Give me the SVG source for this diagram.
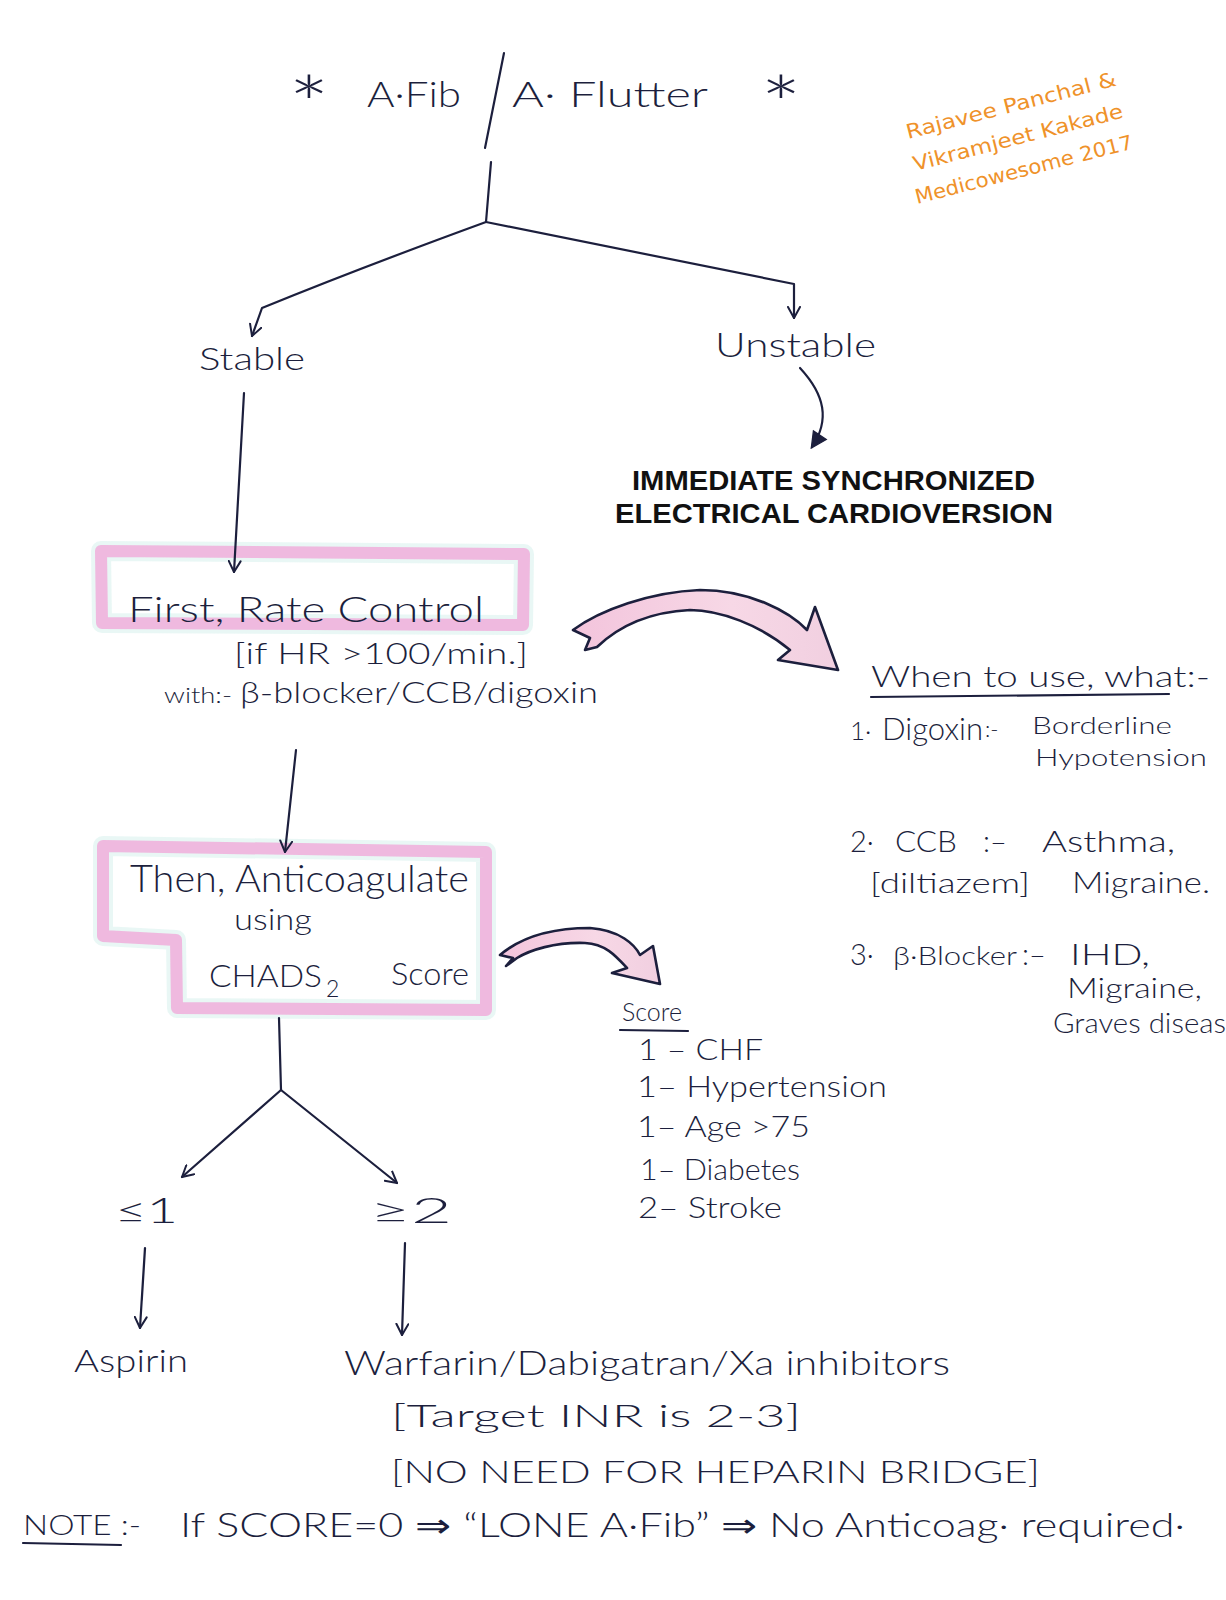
<svg xmlns="http://www.w3.org/2000/svg" width="1226" height="1600" viewBox="0 0 1226 1600">
<defs>
<style>
.h{font-family:Lato,"Liberation Sans","DejaVu Sans",sans-serif;font-weight:300;fill:#1c1f3d}
.cr{font-family:"DejaVu Sans","Liberation Sans",sans-serif;fill:#ef922a;font-size:20px}
.b{font-family:"Liberation Sans",Arial,sans-serif;font-weight:bold;fill:#111;font-size:28px}
.ln{fill:none;stroke:#1c1f3d;stroke-width:2.2;stroke-linecap:round;stroke-linejoin:round}
.pinkglow{fill:none;stroke:#e4f5f3;stroke-width:20;stroke-linejoin:round;opacity:0.8}
.pink{fill:none;stroke:#f0aedb;stroke-width:12;stroke-linejoin:round;opacity:0.85}
.parrow{fill:url(#pg);stroke:#1c1f3d;stroke-width:2.6;stroke-linejoin:round}
</style>
<linearGradient id="pg" x1="0" y1="0" x2="1" y2="0">
<stop offset="0" stop-color="#f3c4dc"/>
<stop offset="0.6" stop-color="#f7d8e6"/>
<stop offset="1" stop-color="#f1cfe0"/>
</linearGradient>
<marker id="ah" viewBox="0 0 14 14" refX="12" refY="7" markerWidth="14" markerHeight="14" orient="auto" markerUnits="userSpaceOnUse">
<path d="M1,1 L12,7 L1,13" fill="none" stroke="#1c1f3d" stroke-width="2" stroke-linecap="round" stroke-linejoin="round"/>
</marker>
<marker id="ahf" viewBox="0 0 14 14" refX="12" refY="7" markerWidth="18" markerHeight="18" orient="auto" markerUnits="userSpaceOnUse">
<path d="M1,1 L13,7 L1,13 Z" fill="#1c1f3d" stroke="#1c1f3d" stroke-width="1"/>
</marker>
</defs>
<rect x="0" y="0" width="1226" height="1600" fill="#ffffff"/>

<g id="title">
<text class="h" x="288" y="134" font-size="78" textLength="42" lengthAdjust="spacingAndGlyphs">*</text>
<text class="h" x="367" y="107" font-size="36" textLength="94" lengthAdjust="spacingAndGlyphs">A·Fib</text>
<line class="ln" x1="504" y1="53" x2="485" y2="148"/>
<text class="h" x="512" y="107" font-size="36" textLength="196" lengthAdjust="spacingAndGlyphs">A· Flutter</text>
<text class="h" x="760" y="134" font-size="78" textLength="42" lengthAdjust="spacingAndGlyphs">*</text>
</g>

<g id="credits">
<text class="cr" transform="translate(908,139) rotate(-14.4)" textLength="216" lengthAdjust="spacingAndGlyphs">Rajavee Panchal &amp;</text>
<text class="cr" transform="translate(915,171) rotate(-14.4)" textLength="216" lengthAdjust="spacingAndGlyphs">Vikramjeet Kakade</text>
<text class="cr" transform="translate(917,204) rotate(-14.4)" textLength="224" lengthAdjust="spacingAndGlyphs">Medicowesome 2017</text>
</g>

<g id="stable"><text class="h" x="199" y="370" font-size="31" textLength="106" lengthAdjust="spacingAndGlyphs">Stable</text></g>
<g id="unstable"><text class="h" x="715" y="357" font-size="33" textLength="161" lengthAdjust="spacingAndGlyphs">Unstable</text></g>

<g id="cardioversion">
<text class="b" x="632" y="490" textLength="403" lengthAdjust="spacingAndGlyphs">IMMEDIATE SYNCHRONIZED</text>
<text class="b" x="615" y="523" textLength="438" lengthAdjust="spacingAndGlyphs">ELECTRICAL CARDIOVERSION</text>
</g>

<g id="rate-control">
<path class="pinkglow" d="M101,551 L524,554 L523,625 L102,623 Z"/>
<path class="pink" d="M101,551 L524,554 L523,625 L102,623 Z"/>
<text class="h" x="128" y="622" font-size="36" textLength="356" lengthAdjust="spacingAndGlyphs">First, Rate Control</text>
<text class="h" x="234" y="664" font-size="29" textLength="294" lengthAdjust="spacingAndGlyphs">[if HR &gt;100/min.]</text>
<text class="h" x="164" y="703" font-size="22" textLength="68" lengthAdjust="spacingAndGlyphs">with:-</text>
<text class="h" x="240" y="703" font-size="29" textLength="358" lengthAdjust="spacingAndGlyphs">β-blocker/CCB/digoxin</text>
</g>

<g id="when-to-use">
<text class="h" x="871" y="687" font-size="29" textLength="339" lengthAdjust="spacingAndGlyphs">When to use, what:-</text>
<line class="ln" x1="871" y1="697" x2="1169" y2="694"/>
<text class="h" x="850" y="740" font-size="26">1·</text>
<text class="h" x="882" y="740" font-size="31" textLength="101" lengthAdjust="spacingAndGlyphs">Digoxin</text>
<text class="h" x="985" y="737" font-size="22">:-</text>
<text class="h" x="1032" y="734" font-size="24" textLength="140" lengthAdjust="spacingAndGlyphs">Borderline</text>
<text class="h" x="1035" y="766" font-size="24" textLength="172" lengthAdjust="spacingAndGlyphs">Hypotension</text>
<text class="h" x="850" y="852" font-size="29">2·</text>
<text class="h" x="895" y="852" font-size="29" textLength="62" lengthAdjust="spacingAndGlyphs">CCB</text>
<text class="h" x="983" y="852" font-size="29">:–</text>
<text class="h" x="1042" y="852" font-size="29" textLength="133" lengthAdjust="spacingAndGlyphs">Asthma,</text>
<text class="h" x="870" y="893" font-size="27" textLength="160" lengthAdjust="spacingAndGlyphs">[diltiazem]</text>
<text class="h" x="1072" y="893" font-size="29" textLength="138" lengthAdjust="spacingAndGlyphs">Migraine.</text>
<text class="h" x="850" y="965" font-size="29">3·</text>
<text class="h" x="893" y="965" font-size="25" textLength="124" lengthAdjust="spacingAndGlyphs">β·Blocker</text>
<text class="h" x="1022" y="965" font-size="29">:–</text>
<text class="h" x="1070" y="965" font-size="29" textLength="80" lengthAdjust="spacingAndGlyphs">IHD,</text>
<text class="h" x="1067" y="998" font-size="27" textLength="135" lengthAdjust="spacingAndGlyphs">Migraine,</text>
<text class="h" x="1053" y="1033" font-size="27" textLength="173" lengthAdjust="spacingAndGlyphs">Graves diseas</text>
</g>

<g id="anticoagulate">
<path class="pinkglow" d="M103,846 L486,852 L486,1010 L177,1008 L176,940 L103,936 Z"/>
<path class="pink" d="M103,846 L486,852 L486,1010 L177,1008 L176,940 L103,936 Z"/>
<text class="h" x="130" y="892" font-size="37" textLength="339" lengthAdjust="spacingAndGlyphs">Then, Anticoagulate</text>
<text class="h" x="234" y="930" font-size="29" textLength="78" lengthAdjust="spacingAndGlyphs">using</text>
<text class="h" x="209" y="987" font-size="31" textLength="113" lengthAdjust="spacingAndGlyphs">CHADS</text>
<text class="h" x="326" y="997" font-size="23">2</text>
<text class="h" x="391" y="985" font-size="31" textLength="78" lengthAdjust="spacingAndGlyphs">Score</text>
</g>

<g id="score-list">
<text class="h" x="622" y="1021" font-size="25" textLength="60" lengthAdjust="spacingAndGlyphs">Score</text>
<line class="ln" x1="620" y1="1030" x2="688" y2="1031"/>
<text class="h" x="638" y="1060" font-size="29" textLength="125" lengthAdjust="spacingAndGlyphs">1 – CHF</text>
<text class="h" x="637" y="1097" font-size="29" textLength="250" lengthAdjust="spacingAndGlyphs">1– Hypertension</text>
<text class="h" x="637" y="1137" font-size="29" textLength="173" lengthAdjust="spacingAndGlyphs">1– Age &gt;75</text>
<text class="h" x="640" y="1180" font-size="29" textLength="160" lengthAdjust="spacingAndGlyphs">1– Diabetes</text>
<text class="h" x="638" y="1218" font-size="29" textLength="144" lengthAdjust="spacingAndGlyphs">2– Stroke</text>
</g>

<g id="le1"><text class="h" x="115" y="1223" font-size="35" textLength="63" lengthAdjust="spacingAndGlyphs">≤1</text></g>
<g id="ge2"><text class="h" x="370" y="1223" font-size="35" textLength="82" lengthAdjust="spacingAndGlyphs">≥2</text></g>

<g id="aspirin"><text class="h" x="74" y="1372" font-size="31" textLength="114" lengthAdjust="spacingAndGlyphs">Aspirin</text></g>

<g id="warfarin">
<text class="h" x="344" y="1375" font-size="33" textLength="606" lengthAdjust="spacingAndGlyphs">Warfarin/Dabigatran/Xa inhibitors</text>
<text class="h" x="391" y="1427" font-size="31" textLength="410" lengthAdjust="spacingAndGlyphs">[Target INR is 2-3]</text>
<text class="h" x="391" y="1483" font-size="31" textLength="649" lengthAdjust="spacingAndGlyphs">[NO NEED FOR HEPARIN BRIDGE]</text>
</g>

<g id="note">
<text class="h" x="23" y="1535" font-size="27" textLength="118" lengthAdjust="spacingAndGlyphs">NOTE :-</text>
<line class="ln" x1="23" y1="1543" x2="121" y2="1545"/>
<text class="h" x="180" y="1537" font-size="33" textLength="1005" lengthAdjust="spacingAndGlyphs">If SCORE=0 ⇒ “LONE A·Fib” ⇒ No Anticoag· required·</text>
</g>

<g id="connectors">
<path class="ln" d="M491,162 L486,222"/>
<path class="ln" d="M486,222 Q360,268 262,308 L252,336" marker-end="url(#ah)"/>
<path class="ln" d="M486,222 L794,284 L794,318" marker-end="url(#ah)"/>
<path class="ln" d="M244,393 L234,572" marker-end="url(#ah)"/>
<path class="ln" d="M800,368 C825,395 830,420 812,447" marker-end="url(#ahf)"/>
<path class="ln" d="M296,750 L285,852" marker-end="url(#ah)"/>
<path class="ln" d="M279,1018 L281,1090"/>
<path class="ln" d="M281,1090 L182,1177" marker-end="url(#ah)"/>
<path class="ln" d="M281,1090 L397,1183" marker-end="url(#ah)"/>
<path class="ln" d="M145,1248 L140,1328" marker-end="url(#ah)"/>
<path class="ln" d="M405,1243 L402,1335" marker-end="url(#ah)"/>
<path class="parrow" d="M573,630 C600,610 650,592 700,590 C750,590 790,612 807,630 L815,607 L838,670 L778,660 L790,650 C760,625 720,610 690,610 C650,612 620,625 597,647 L585,650 L590,638 Z"/>
<path class="parrow" d="M500,955 C520,938 550,928 590,928 C620,930 635,945 640,955 L653,946 L660,984 L612,973 L627,968 C615,955 605,944 585,943 C555,942 530,950 517,958 L506,966 L513,958 Z"/>
</g>
</svg>
